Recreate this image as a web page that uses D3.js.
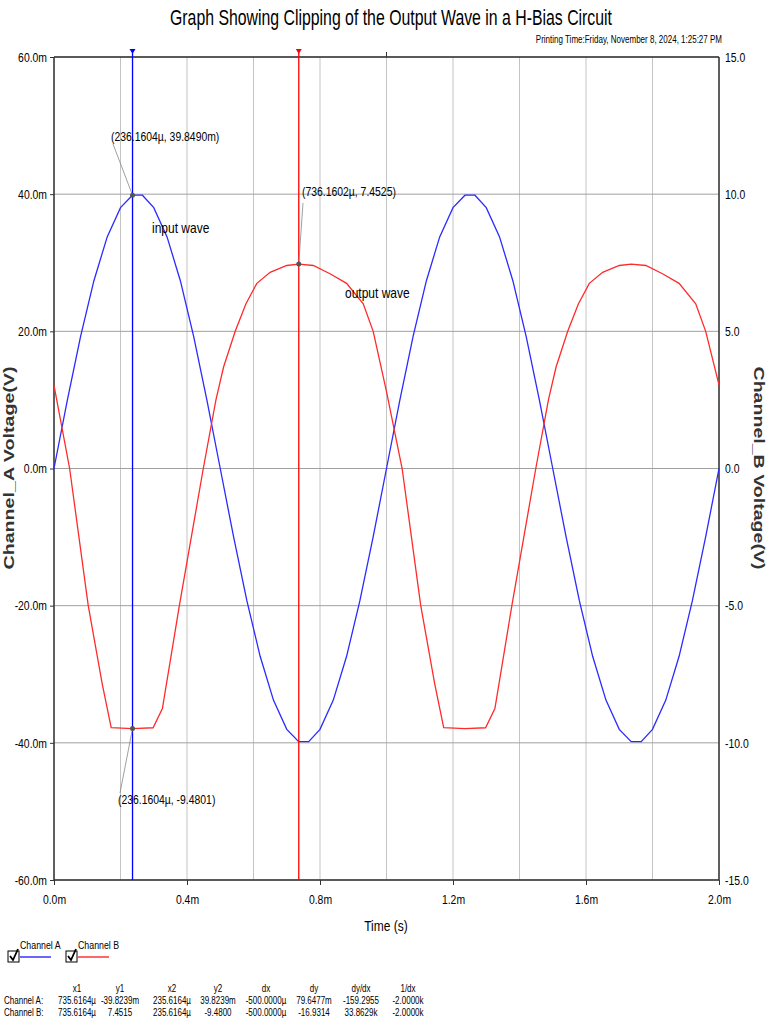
<!DOCTYPE html>
<html><head><meta charset="utf-8">
<script src="https://cdn.jsdelivr.net/npm/d3@7"></script>
<style>body{margin:0;background:#fff}svg{display:block;font-family:"Liberation Sans",Arial,sans-serif}</style>
</head><body><svg id="c" width="768" height="1024"></svg>
<script>
const title = "Graph Showing Clipping of the Output Wave in a H-Bias Circuit";
const printTime = "Printing Time:Friday, November 8, 2024, 1:25:27 PM";
const xTicks = [0, 0.4, 0.8, 1.2, 1.6, 2.0];
const xTickLabels = ["0.0m","0.4m","0.8m","1.2m","1.6m","2.0m"];
const yLeftTicks = [-60,-40,-20,0,20,40,60];
const yLeftLabels = ["-60.0m","-40.0m","-20.0m","0.0m","20.0m","40.0m","60.0m"];
const yRightTicks = [-15,-10,-5,0,5,10,15];
const yRightLabels = ["-15.0","-10.0","-5.0","0.0","5.0","10.0","15.0"];
// Channel A (input wave), time in ms, value in mV
const timeA = [0,0.04,0.08,0.12,0.16,0.20,0.236,0.266,0.30,0.34,0.38,0.42,0.46,0.50,0.54,0.58,0.62,0.66,0.70,0.736,0.766,0.80,0.84,0.88,0.92,0.96,1.00,
  1.04,1.08,1.12,1.16,1.20,1.236,1.266,1.30,1.34,1.38,1.42,1.46,1.50,1.54,1.58,1.62,1.66,1.70,1.736,1.766,1.80,1.84,1.88,1.92,1.96,2.00];
const valueA = [0,9.95,19.27,27.38,33.77,38.04,39.85,39.85,38.04,33.77,27.38,19.27,9.95,0,-9.95,-19.27,-27.38,-33.77,-38.04,-39.82,-39.82,-38.04,-33.77,-27.38,-19.27,-9.95,0,
  9.95,19.27,27.38,33.77,38.04,39.85,39.85,38.04,33.77,27.38,19.27,9.95,0,-9.95,-19.27,-27.38,-33.77,-38.04,-39.82,-39.82,-38.04,-33.77,-27.38,-19.27,-9.95,0];
// Channel B (output wave), time in ms, value in V
const timeB = [0,0.047,0.103,0.145,0.172,0.236,0.298,0.326,0.377,0.449,0.487,0.51,0.545,0.577,0.61,0.65,0.70,0.736,0.78,0.83,0.88,0.93,0.96,1.00,
  1.047,1.103,1.145,1.172,1.236,1.298,1.326,1.377,1.449,1.487,1.51,1.545,1.577,1.61,1.65,1.70,1.736,1.78,1.83,1.88,1.93,1.96,2.00];
const valueB = [3.03,0,-5.0,-7.85,-9.45,-9.48,-9.45,-8.75,-5.0,0,2.5,3.7,5.0,6.0,6.75,7.15,7.4,7.45,7.4,7.1,6.75,6.0,5.0,2.8,
  0,-5.0,-7.85,-9.45,-9.48,-9.45,-8.75,-5.0,0,2.5,3.7,5.0,6.0,6.75,7.15,7.4,7.45,7.4,7.1,6.75,6.0,5.0,3.05];
const cursors = [{t:0.2361604, color:"#0000ff"},{t:0.7361602, color:"#ff0000"}];
const tableHeader = ["x1","y1","x2","y2","dx","dy","dy/dx","1/dx"];
const tableRowA = ["735.6164µ","-39.8239m","235.6164µ","39.8239m","-500.0000µ","79.6477m","-159.2955","-2.0000k"];
const tableRowB = ["735.6164µ","7.4515","235.6164µ","-9.4800","-500.0000µ","-16.9314","33.8629k","-2.0000k"];

const svg = d3.select("#c");
const L=54,R=719,T=57,B=880;
const x = d3.scaleLinear().domain([0,2]).range([L,R]);
const yA = d3.scaleLinear().domain([-60,60]).range([B,T]);
const yB = d3.scaleLinear().domain([-15,15]).range([B,T]);

svg.append("text").attr("x",391).attr("y",25).attr("text-anchor","middle").attr("font-size",22)
  .attr("textLength",442).attr("lengthAdjust","spacingAndGlyphs").text(title);
svg.append("text").attr("class","nar").attr("x",722).attr("y",43).attr("text-anchor","end").attr("font-size",10).text(printTime);

const g = svg.append("g");
d3.range(0,2.0001,0.2).forEach(t=>{
  g.append("line").attr("x1",x(t)).attr("x2",x(t)).attr("y1",T).attr("y2",B).attr("stroke","#c4c4c4").attr("stroke-width",1);
});
yLeftTicks.forEach(v=>{
  g.append("line").attr("x1",L).attr("x2",R).attr("y1",yA(v)).attr("y2",yA(v)).attr("stroke","#a0a0a0").attr("stroke-width",1);
});
[[L,T,R,T],[L,B,R,B],[L,T,L,B],[R,T,R,B]].forEach(([a,b,c,d])=>
  g.append("line").attr("x1",a).attr("y1",b).attr("x2",c).attr("y2",d).attr("stroke","#333").attr("stroke-width",1.5));
g.append("line").attr("x1",x(1)).attr("x2",x(1)).attr("y1",T-5).attr("y2",T).attr("stroke","#333");

const ax = svg.append("g").attr("transform",`translate(0,${B})`)
  .call(d3.axisBottom(x).tickValues(xTicks).tickFormat((d,i)=>xTickLabels[i]).tickSize(5).tickPadding(10));
const ayl = svg.append("g").attr("transform",`translate(${L},0)`)
  .call(d3.axisLeft(yA).tickValues(yLeftTicks).tickFormat((d,i)=>yLeftLabels[i]).tickSize(4).tickPadding(3));
const ayr = svg.append("g").attr("transform",`translate(${R},0)`)
  .call(d3.axisRight(yB).tickValues(yRightTicks).tickFormat((d,i)=>yRightLabels[i]).tickSize(0).tickPadding(6));
[ax,ayl,ayr].forEach(a=>{a.select(".domain").remove();a.selectAll("text").attr("font-size",13).attr("fill","#000")
  .style("font-family","'Liberation Sans',Arial,sans-serif").classed("nar",true);a.selectAll("line").attr("stroke","#333");});

svg.append("text").attr("class","nar").attr("x",386).attr("y",931).attr("text-anchor","middle").attr("font-size",15).text("Time (s)");
svg.append("text").attr("transform","translate(14,468) rotate(-90)").attr("text-anchor","middle").attr("font-size",14)
  .attr("font-weight","bold").attr("fill","#333").attr("textLength",203).attr("lengthAdjust","spacingAndGlyphs").text("Channel_A Voltage(V)");
svg.append("text").attr("transform","translate(754,468) rotate(90)").attr("text-anchor","middle").attr("font-size",14)
  .attr("font-weight","bold").attr("fill","#333").attr("textLength",203).attr("lengthAdjust","spacingAndGlyphs").text("Channel_B Voltage(V)");

const lineA = d3.line().x((d,i)=>x(timeA[i])).y(d=>yA(d));
const lineB = d3.line().x((d,i)=>x(timeB[i])).y(d=>yB(d));
svg.append("path").attr("d",lineA(valueA)).attr("fill","none").attr("stroke","#2b2bff").attr("stroke-width",1.3);
svg.append("path").attr("d",lineB(valueB)).attr("fill","none").attr("stroke","#ff2b2b").attr("stroke-width",1.3);

cursors.forEach(c=>{
  const cx=x(c.t);
  svg.append("line").attr("x1",cx).attr("x2",cx).attr("y1",T-4).attr("y2",B).attr("stroke",c.color).attr("stroke-width",1.3);
  svg.append("path").attr("d",`M${cx-3},${T-8}L${cx+3},${T-8}L${cx},${T-3}Z`).attr("fill",c.color);
});
const ann = [
  {t:cursors[0].t, y:yA(39.849), lx:111, ly:141, tx:111, ty:141, label:"(236.1604µ, 39.8490m)"},
  {t:cursors[1].t, y:yB(7.4525), lx:301, ly:200, tx:302, ty:196, label:"(736.1602µ, 7.4525)"},
  {t:cursors[0].t, y:yB(-9.4801), lx:118, ly:790, tx:118, ty:804, label:"(236.1604µ, -9.4801)"}
];
ann.forEach(a=>{
  const cx=x(a.t);
  svg.append("line").attr("x1",a.lx+2).attr("y1",a.ly+3).attr("x2",cx).attr("y2",a.y).attr("stroke","#888").attr("stroke-width",0.8);
  svg.append("circle").attr("cx",cx).attr("cy",a.y).attr("r",2.5).attr("fill","#555");
  svg.append("text").attr("class","nar").attr("x",a.tx).attr("y",a.ty).attr("font-size",13).text(a.label);
});
svg.append("text").attr("class","nar").attr("x",152).attr("y",233).attr("font-size",15).text("input wave");
svg.append("text").attr("class","nar").attr("x",345).attr("y",298).attr("font-size",15).text("output wave");

[{x:8,label:"Channel A",color:"#0000ff"},{x:66,label:"Channel B",color:"#ff0000"}].forEach(l=>{
  svg.append("rect").attr("x",l.x).attr("y",951).attr("width",11).attr("height",11).attr("fill","#fff").attr("stroke","#000");
  svg.append("path").attr("d",`M${l.x+2},956L${l.x+5},960L${l.x+10},949`).attr("fill","none").attr("stroke","#000").attr("stroke-width",1.8);
  svg.append("text").attr("class","nar").attr("x",l.x+12).attr("y",949).attr("font-size",11).text(l.label);
  svg.append("line").attr("x1",l.x+12).attr("x2",l.x+43).attr("y1",957).attr("y2",957).attr("stroke",l.color).attr("stroke-width",1.2);
});
const colX=[77,120,172,218,266,314,361,408];
tableHeader.forEach((h,i)=>svg.append("text").attr("class","nar").attr("x",colX[i]).attr("y",992).attr("text-anchor","middle").attr("font-size",10).text(h));
[["Channel A:",tableRowA,1004],["Channel B:",tableRowB,1016]].forEach(([lab,row,yy])=>{
  svg.append("text").attr("class","nar").attr("x",4).attr("y",yy).attr("font-size",10).text(lab);
  row.forEach((v,i)=>svg.append("text").attr("class","nar").attr("x",colX[i]).attr("y",yy).attr("text-anchor","middle").attr("font-size",10).text(v));
});
svg.selectAll("text.nar").each(function(){
  const len=this.getComputedTextLength();
  d3.select(this).attr("textLength",len*0.8).attr("lengthAdjust","spacingAndGlyphs");
});
</script></body></html>
